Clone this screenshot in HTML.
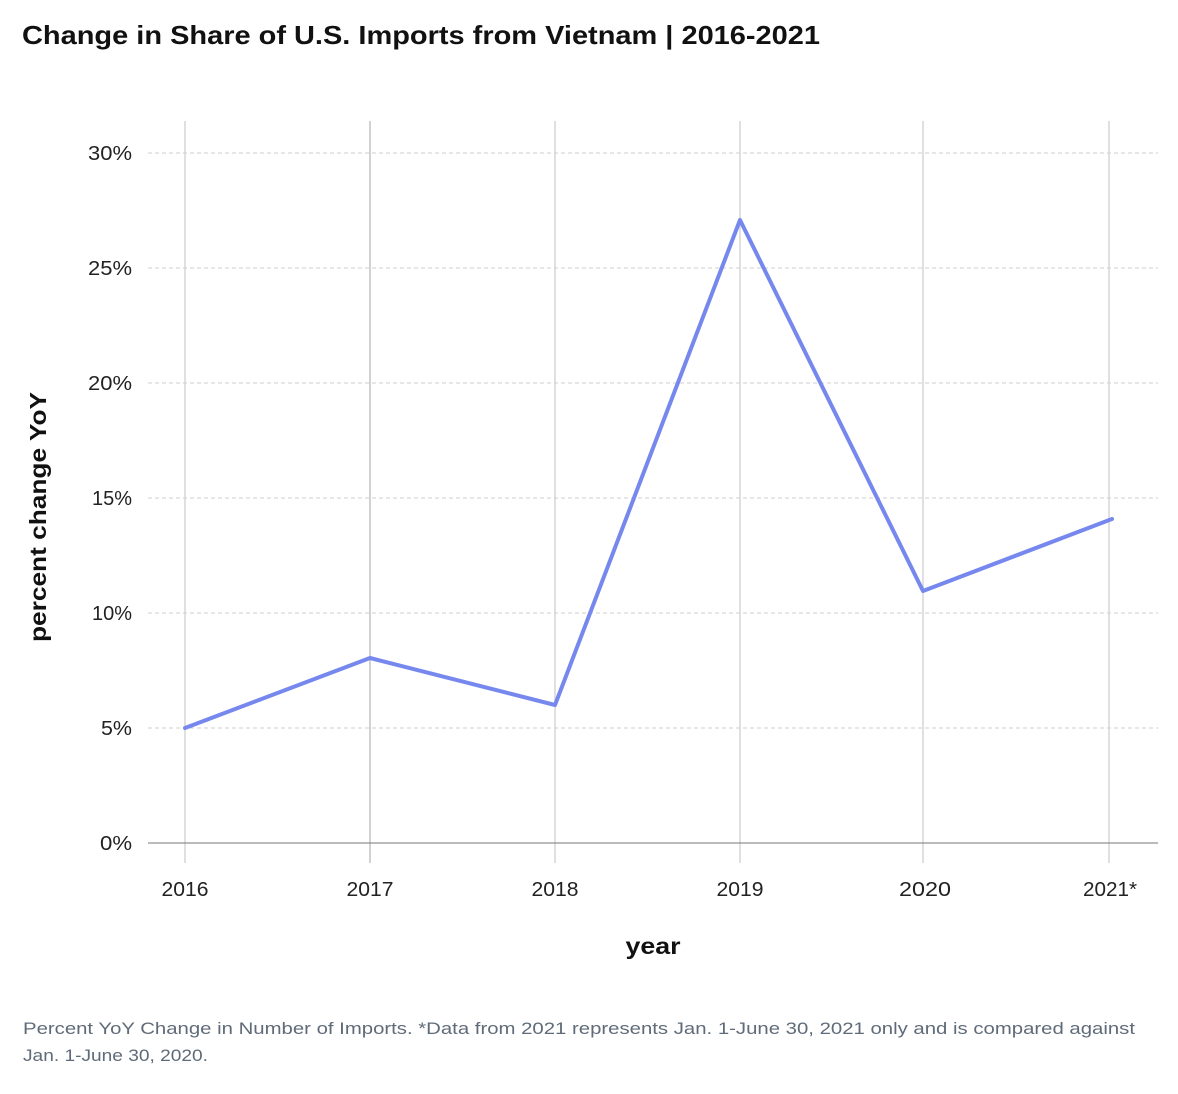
<!DOCTYPE html>
<html><head><meta charset="utf-8"><style>
body{margin:0;background:#fff;}
svg{display:block;font-family:"Liberation Sans",sans-serif;}
</style></head><body>
<svg width="1178" height="1094" viewBox="0 0 1178 1094">
<text x="22" y="44" font-size="26" font-weight="bold" fill="#111" textLength="798" lengthAdjust="spacingAndGlyphs">Change in Share of U.S. Imports from Vietnam | 2016-2021</text>
<g stroke="#d6d6d6" stroke-width="1.5">
<line x1="185" y1="121" x2="185" y2="863"/>
<line x1="370" y1="121" x2="370" y2="863" stroke="#c4c4c4"/>
<line x1="555" y1="121" x2="555" y2="863"/>
<line x1="740" y1="121" x2="740" y2="863"/>
<line x1="923" y1="121" x2="923" y2="863"/>
<line x1="1109" y1="121" x2="1109" y2="863"/>
</g>
<g stroke="#cfcfcf" stroke-width="1" stroke-dasharray="4,3">
<line x1="148" y1="153" x2="1158" y2="153"/>
<line x1="148" y1="268" x2="1158" y2="268"/>
<line x1="148" y1="383" x2="1158" y2="383"/>
<line x1="148" y1="498" x2="1158" y2="498"/>
<line x1="148" y1="613" x2="1158" y2="613"/>
<line x1="148" y1="728" x2="1158" y2="728"/>
</g>
<line x1="148" y1="843" x2="1158" y2="843" stroke="#777" stroke-width="1"/>
<g font-size="20" fill="#222" text-anchor="end" lengthAdjust="spacingAndGlyphs">
<text x="132" y="160" textLength="44" lengthAdjust="spacingAndGlyphs">30%</text>
<text x="132" y="275" textLength="44" lengthAdjust="spacingAndGlyphs">25%</text>
<text x="132" y="390" textLength="44" lengthAdjust="spacingAndGlyphs">20%</text>
<text x="132" y="505" textLength="40" lengthAdjust="spacingAndGlyphs">15%</text>
<text x="132" y="620" textLength="40" lengthAdjust="spacingAndGlyphs">10%</text>
<text x="132" y="735" textLength="31" lengthAdjust="spacingAndGlyphs">5%</text>
<text x="132" y="850" textLength="32" lengthAdjust="spacingAndGlyphs">0%</text>
</g>
<g font-size="20" fill="#222" text-anchor="middle">
<text x="185" y="896" textLength="47" lengthAdjust="spacingAndGlyphs">2016</text>
<text x="370" y="896" textLength="47" lengthAdjust="spacingAndGlyphs">2017</text>
<text x="555" y="896" textLength="47" lengthAdjust="spacingAndGlyphs">2018</text>
<text x="740" y="896" textLength="47" lengthAdjust="spacingAndGlyphs">2019</text>
<text x="925" y="896" textLength="52" lengthAdjust="spacingAndGlyphs">2020</text>
<text x="1110" y="896" textLength="54" lengthAdjust="spacingAndGlyphs">2021*</text>
</g>
<text x="653" y="954" font-size="23" font-weight="bold" text-anchor="middle" fill="#111" textLength="55" lengthAdjust="spacingAndGlyphs">year</text>
<text transform="translate(46,517) rotate(-90)" font-size="23" font-weight="bold" text-anchor="middle" fill="#111" textLength="250" lengthAdjust="spacingAndGlyphs">percent change YoY</text>
<polyline points="185,728 370,658 555,705 740,220 923,591 1112,519" fill="none" stroke="#7688ee" stroke-width="4" stroke-linejoin="round" stroke-linecap="round"/>
<g font-size="17" fill="#5f6b78">
<text x="23" y="1034" textLength="1112" lengthAdjust="spacingAndGlyphs">Percent YoY Change in Number of Imports. *Data from 2021 represents Jan. 1-June 30, 2021 only and is compared against</text>
<text x="23" y="1061" textLength="185" lengthAdjust="spacingAndGlyphs">Jan. 1-June 30, 2020.</text>
</g>
</svg>
</body></html>
